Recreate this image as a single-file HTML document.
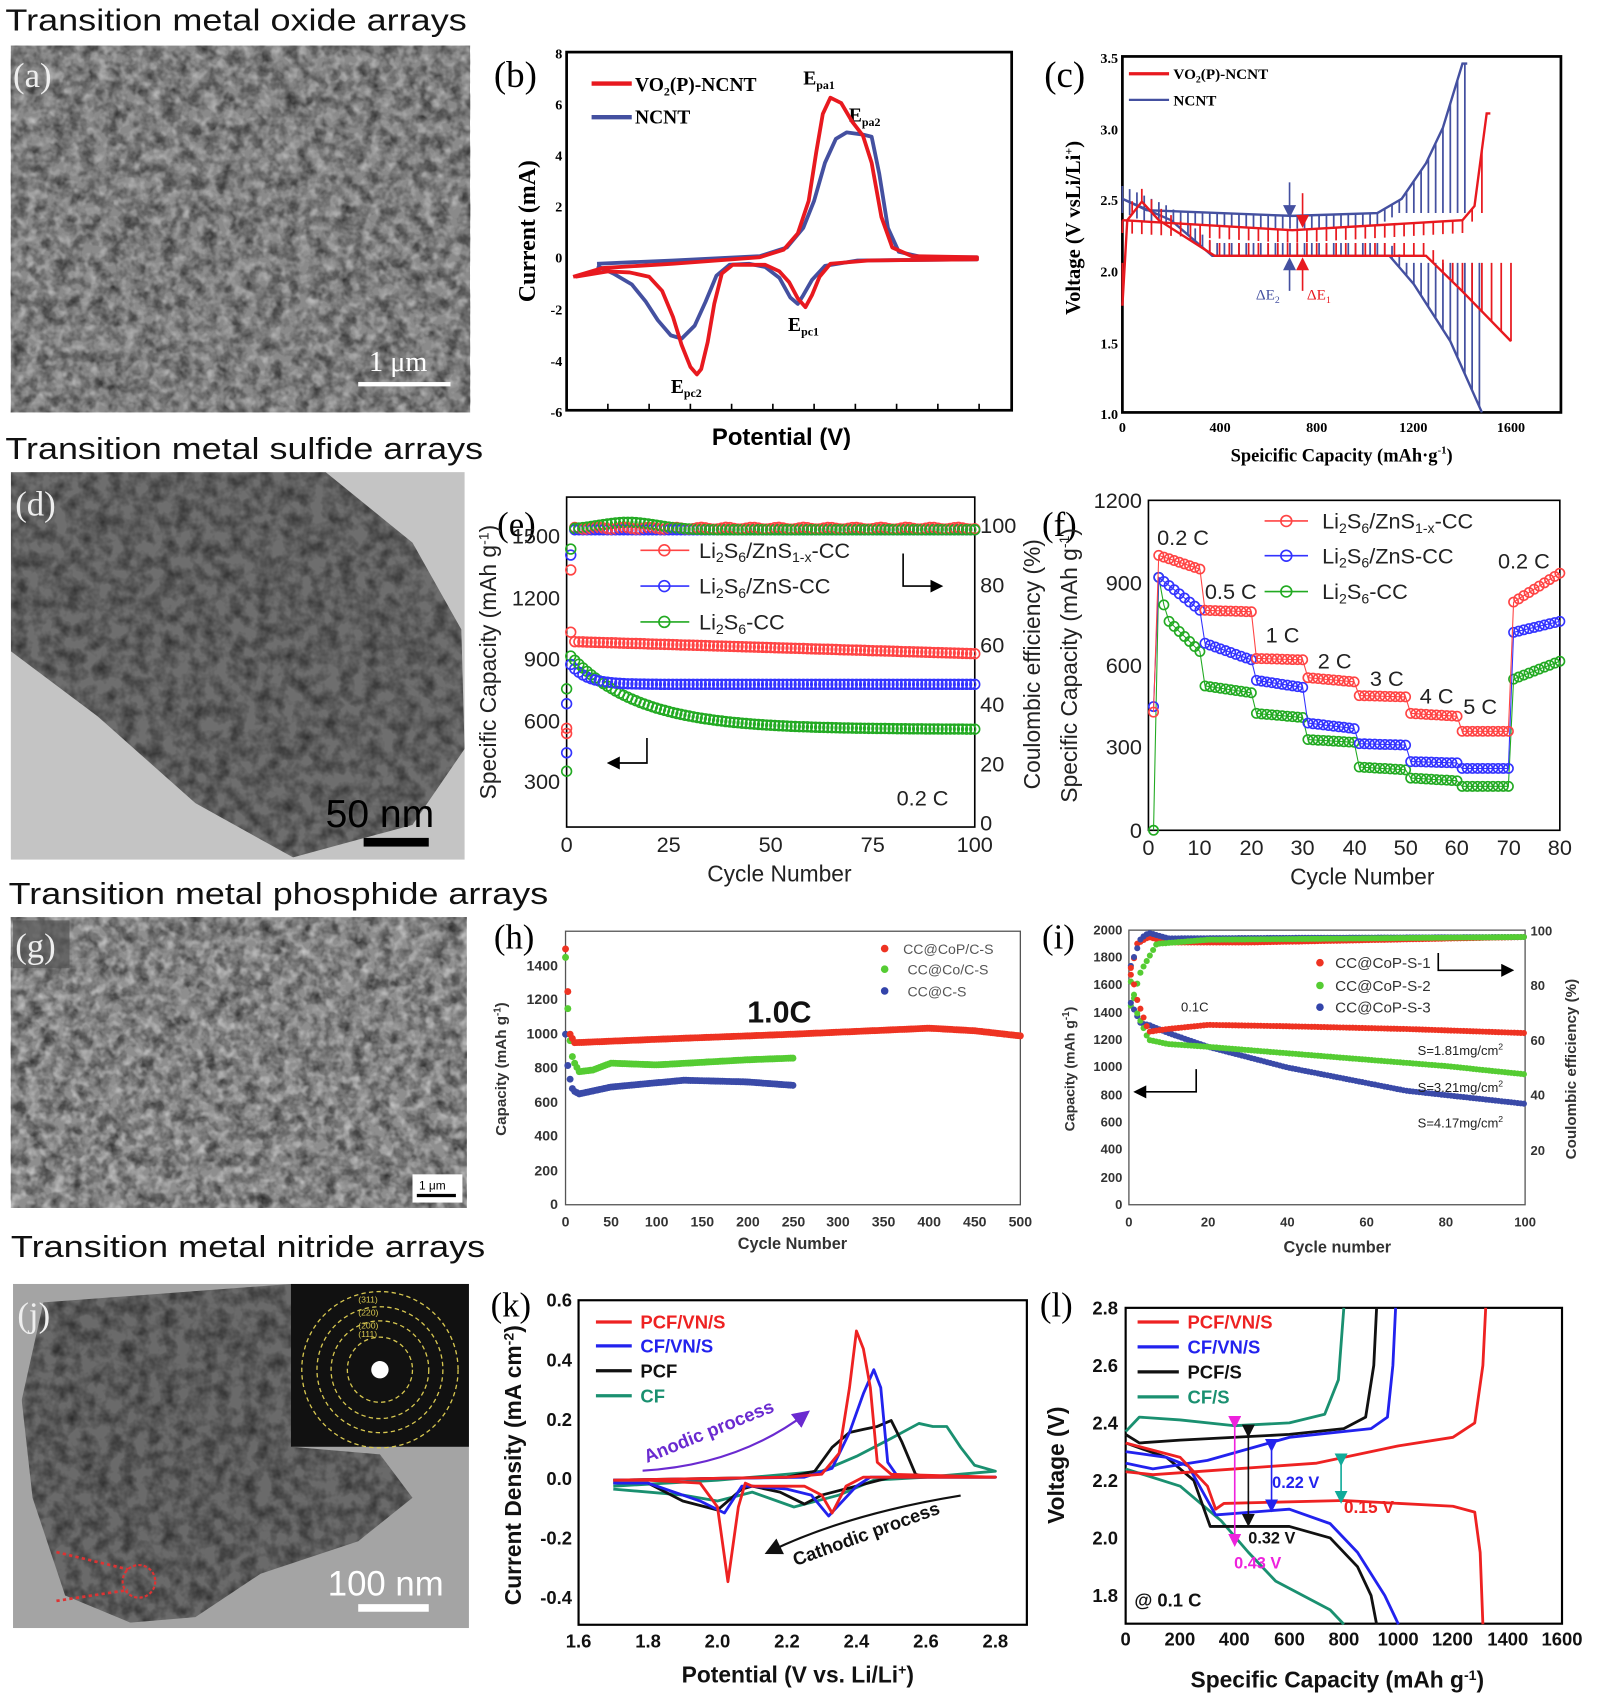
<!DOCTYPE html>
<html><head><meta charset="utf-8"><style>
html,body{margin:0;padding:0;background:#fff;}
svg{display:block}
.t{font-family:"Liberation Sans",Arial,sans-serif;}
.s{font-family:"Liberation Serif","Times New Roman",serif;}
</style></head><body>
<svg id="S" xmlns="http://www.w3.org/2000/svg" width="1600" height="1704" viewBox="0 0 1474 1570" preserveAspectRatio="none">
<defs>
<filter id="nz" x="0" y="0" width="1" height="1"><feTurbulence type="fractalNoise" baseFrequency="0.08" numOctaves="3" seed="3"/><feColorMatrix type="matrix" values="0 0 0 0 0  0 0 0 0 0  0 0 0 0 0  1.6 0 0 0 -0.55"/></filter>
<filter id="nzw" x="0" y="0" width="1" height="1"><feTurbulence type="fractalNoise" baseFrequency="0.12" numOctaves="2" seed="7"/><feColorMatrix type="matrix" values="0 0 0 0 1  0 0 0 0 1  0 0 0 0 1  1.8 0 0 0 -0.8"/></filter>
<clipPath id="cpd"><path d="M10,435 L300,435 L380,500 L425,580 L428,690 L380,760 L270,790 L180,740 L90,660 L10,600 Z"/></clipPath>
<clipPath id="cpj"><path d="M40,1200 L268,1183 L268,1333 L350,1340 L380,1380 L330,1420 L240,1450 L180,1490 L120,1495 L60,1470 L30,1380 L20,1290 Z"/></clipPath>
<marker id="ah" markerWidth="8" markerHeight="8" refX="6" refY="4" orient="auto"><path d="M0,0 L8,4 L0,8 z" fill="context-stroke"/></marker>
</defs>
<rect width="1474" height="1570" fill="#fff"/>

<g class="t" font-size="28" fill="#111">
<text x="5" y="28" textLength="425" lengthAdjust="spacingAndGlyphs">Transition metal oxide arrays</text>
<text x="5" y="423" textLength="440" lengthAdjust="spacingAndGlyphs">Transition metal sulfide arrays</text>
<text x="8" y="833" textLength="497" lengthAdjust="spacingAndGlyphs">Transition metal phosphide arrays</text>
<text x="10" y="1158" textLength="437" lengthAdjust="spacingAndGlyphs">Transition metal nitride arrays</text>
</g>

<!-- photo a -->
<rect x="10" y="42" width="423" height="338" fill="#8a8a8a"/>
<rect x="10" y="42" width="423" height="338" filter="url(#nz)" opacity="0.7"/>
<rect x="10" y="42" width="423" height="338" filter="url(#nzw)" opacity="0.5"/>
<text x="12" y="80" class="s" font-size="32" fill="#eee">(a)</text>
<text x="340" y="342" class="s" font-size="26" fill="#fff">1 μm</text>
<rect x="330" y="352" width="85" height="4" fill="#fff"/>

<!-- photo d -->
<rect x="10" y="435" width="418" height="357" fill="#c4c4c4"/>
<g clip-path="url(#cpd)"><rect x="10" y="435" width="418" height="357" fill="#6e6e6e"/>
<rect x="10" y="435" width="418" height="357" filter="url(#nz)" opacity="0.6"/></g>
<text x="14" y="475" class="s" font-size="32" fill="#eee">(d)</text>
<text x="300" y="762" class="t" font-size="36" fill="#000">50 nm</text>
<rect x="335" y="772" width="60" height="8" fill="#000"/>

<!-- photo g -->
<rect x="10" y="845" width="420" height="268" fill="#8e8e8e"/>
<rect x="10" y="845" width="420" height="268" filter="url(#nz)" opacity="0.7"/>
<rect x="10" y="845" width="420" height="268" filter="url(#nzw)" opacity="0.6"/>
<rect x="12" y="848" width="52" height="44" fill="#555" opacity="0.7"/>
<text x="14" y="882" class="s" font-size="32" fill="#eee">(g)</text>
<rect x="380" y="1082" width="46" height="26" fill="#fff"/>
<text x="386" y="1096" class="t" font-size="11" fill="#000">1 μm</text>
<rect x="384" y="1100" width="36" height="3" fill="#000"/>

<!-- photo j -->
<rect x="12" y="1183" width="420" height="317" fill="#a4a4a4"/>
<g clip-path="url(#cpj)"><rect x="12" y="1183" width="420" height="317" fill="#6a6a6a"/>
<rect x="12" y="1183" width="420" height="317" filter="url(#nz)" opacity="0.6"/></g>
<rect x="268" y="1183" width="164" height="150" fill="#111"/>
<g fill="none" stroke="#d8c850" stroke-width="1.2" stroke-dasharray="4,3">
<circle cx="350" cy="1262" r="30"/><circle cx="350" cy="1262" r="45"/><circle cx="350" cy="1262" r="58"/><circle cx="350" cy="1262" r="72"/>
</g>
<circle cx="350" cy="1262" r="8" fill="#fff"/>
<g class="t" font-size="8" fill="#d8c850"><text x="330" y="1200">(311)</text><text x="330" y="1212">(220)</text><text x="330" y="1224">(200)</text><text x="330" y="1232">(111)</text></g>
<text x="16" y="1222" class="s" font-size="32" fill="#eee">(j)</text>
<text x="302" y="1470" class="t" font-size="32" fill="#fff">100 nm</text>
<rect x="330" y="1478" width="65" height="7" fill="#fff"/>
<circle cx="128" cy="1457" r="15" fill="none" stroke="#d33" stroke-width="2" stroke-dasharray="3,2"/>
<path d="M52,1430 L118,1446 M52,1475 L118,1465" stroke="#d33" stroke-width="2.5" stroke-dasharray="3,3"/>

<!-- ===== (b) ===== -->
<rect x="522" y="48" width="410" height="330" fill="none" stroke="#000" stroke-width="2.5"/>
<text x="455" y="80" class="s" font-size="34">(b)</text>
<g class="s" font-size="13" font-weight="bold" text-anchor="end">
<text x="518" y="54">8</text><text x="518" y="101">6</text><text x="518" y="148">4</text><text x="518" y="195">2</text><text x="518" y="242">0</text><text x="518" y="290">-2</text><text x="518" y="337">-4</text><text x="518" y="384">-6</text>
</g>
<g id="bticks" stroke="#000" stroke-width="1.5"></g>
<text transform="translate(493,213) rotate(-90)" text-anchor="middle" class="s" font-size="22" font-weight="bold">Current (mA)</text>
<text x="720" y="410" text-anchor="middle" class="t" font-size="22" font-weight="bold">Potential (V)</text>
<path d="M545,77 L582,77" stroke="#e8191f" stroke-width="4"/><path d="M545,108 L582,108" stroke="#4450a0" stroke-width="4"/>
<g class="s" font-size="18" font-weight="bold"><text x="585" y="84">VO<tspan font-size="11" dy="4">2</tspan><tspan dy="-4">(P)-NCNT</tspan></text><text x="585" y="114">NCNT</text>
<text x="740" y="78">E<tspan font-size="11" dy="4">pa1</tspan></text><text x="782" y="112">E<tspan font-size="11" dy="4">pa2</tspan></text>
<text x="726" y="305">E<tspan font-size="11" dy="4">pc1</tspan></text><text x="618" y="362">E<tspan font-size="11" dy="4">pc2</tspan></text></g>
<g id="bcurves" fill="none" stroke-width="3.5" stroke-linejoin="round"></g>

<!-- ===== (c) ===== -->
<rect x="1034" y="52" width="404" height="328" fill="none" stroke="#000" stroke-width="2.5"/>
<text x="962" y="80" class="s" font-size="34">(c)</text>
<g class="s" font-size="13" font-weight="bold" text-anchor="end">
<text x="1030" y="58">3.5</text><text x="1030" y="124">3.0</text><text x="1030" y="189">2.5</text><text x="1030" y="255">2.0</text><text x="1030" y="321">1.5</text><text x="1030" y="386">1.0</text>
</g>
<g class="s" font-size="13" font-weight="bold" text-anchor="middle">
<text x="1034" y="398">0</text><text x="1124" y="398">400</text><text x="1213" y="398">800</text><text x="1302" y="398">1200</text><text x="1392" y="398">1600</text>
</g>
<text transform="translate(995,210) rotate(-90)" text-anchor="middle" class="s" font-size="19" font-weight="bold">Voltage (V vsLi/Li<tspan font-size="11" dy="-7">+</tspan><tspan dy="7">)</tspan></text>
<text x="1236" y="425" text-anchor="middle" class="s" font-size="17" font-weight="bold">Speicific Capacity  (mAh·g<tspan font-size="10" dy="-7">-1</tspan><tspan dy="7">)</tspan></text>
<g id="ccurves" fill="none" stroke-width="1.6"></g>
<path d="M1040,68 L1077,68" stroke="#e8191f" stroke-width="3"/><path d="M1040,92 L1077,92" stroke="#4450a0" stroke-width="2"/>
<g class="s" font-size="14" font-weight="bold"><text x="1081" y="73">VO<tspan font-size="9" dy="3">2</tspan><tspan dy="-3">(P)-NCNT</tspan></text><text x="1081" y="97">NCNT</text></g>
<g class="s" font-size="14"><text x="1157" y="276" fill="#4450a0">ΔE<tspan font-size="9" dy="3">2</tspan></text><text x="1204" y="276" fill="#e8191f">ΔE<tspan font-size="9" dy="3">1</tspan></text></g>
<g stroke-width="1.5" fill="none"><path d="M1188,168 L1188,198" stroke="#4450a0" marker-end="url(#ah)"/><path d="M1188,268 L1188,240" stroke="#4450a0" marker-end="url(#ah)"/><path d="M1200,178 L1200,207" stroke="#e8191f" marker-end="url(#ah)"/><path d="M1200,268 L1200,240" stroke="#e8191f" marker-end="url(#ah)"/></g>

<!-- ===== (e) ===== -->
<rect x="522" y="458" width="376" height="304" fill="none" stroke="#000" stroke-width="1.5"/>
<text x="458" y="494" class="s" font-size="32">(e)</text>
<g class="t" font-size="20" fill="#222" text-anchor="end">
<text x="516" y="727">300</text><text x="516" y="671">600</text><text x="516" y="614">900</text><text x="516" y="558">1200</text><text x="516" y="501">1500</text>
</g>
<g class="t" font-size="20" fill="#222">
<text x="903" y="765">0</text><text x="903" y="711">20</text><text x="903" y="656">40</text><text x="903" y="601">60</text><text x="903" y="546">80</text><text x="903" y="491">100</text>
</g>
<g class="t" font-size="20" fill="#222" text-anchor="middle">
<text x="522" y="785">0</text><text x="616" y="785">25</text><text x="710" y="785">50</text><text x="804" y="785">75</text><text x="898" y="785">100</text>
</g>
<text x="718" y="812" text-anchor="middle" class="t" font-size="21" fill="#222">Cycle Number</text>
<text transform="translate(457,610) rotate(-90)" text-anchor="middle" class="t" font-size="21" fill="#222">Specific Capacity (mAh g<tspan font-size="13" dy="-7">-1</tspan><tspan dy="7">)</tspan></text>
<text transform="translate(958,612) rotate(-90)" text-anchor="middle" class="t" font-size="21" fill="#222">Coulombic efficiency (%)</text>
<g id="epts" fill="none" stroke-width="1.5"></g>
<g stroke-width="1.5" fill="none">
<path d="M590,507 L635,507" stroke="#f44"/><circle cx="612" cy="507" r="5" stroke="#f44"/>
<path d="M590,540 L635,540" stroke="#33f"/><circle cx="612" cy="540" r="5" stroke="#33f"/>
<path d="M590,573 L635,573" stroke="#2a2"/><circle cx="612" cy="573" r="5" stroke="#2a2"/>
<path d="M832,510 L832,540 L866,540" stroke="#000" marker-end="url(#ah)"/>
<path d="M596,680 L596,703 L562,703" stroke="#000" marker-end="url(#ah)"/>
</g>
<g class="t" font-size="20" fill="#222">
<text x="644" y="514">Li<tspan font-size="13" dy="4">2</tspan><tspan dy="-4">S</tspan><tspan font-size="13" dy="4">6</tspan><tspan dy="-4">/ZnS</tspan><tspan font-size="13" dy="4">1-x</tspan><tspan dy="-4">-CC</tspan></text>
<text x="644" y="547">Li<tspan font-size="13" dy="4">2</tspan><tspan dy="-4">S</tspan><tspan font-size="13" dy="4">6</tspan><tspan dy="-4">/ZnS-CC</tspan></text>
<text x="644" y="580">Li<tspan font-size="13" dy="4">2</tspan><tspan dy="-4">S</tspan><tspan font-size="13" dy="4">6</tspan><tspan dy="-4">-CC</tspan></text>
<text x="826" y="742">0.2 C</text>
</g>

<!-- ===== (f) ===== -->
<rect x="1058" y="461" width="379" height="304" fill="none" stroke="#000" stroke-width="1.5"/>
<text x="960" y="494" class="s" font-size="32">(f)</text>
<g class="t" font-size="20" fill="#222" text-anchor="end">
<text x="1052" y="772">0</text><text x="1052" y="695">300</text><text x="1052" y="620">600</text><text x="1052" y="544">900</text><text x="1052" y="468">1200</text>
</g>
<g class="t" font-size="20" fill="#222" text-anchor="middle">
<text x="1058" y="788">0</text><text x="1105" y="788">10</text><text x="1153" y="788">20</text><text x="1200" y="788">30</text><text x="1248" y="788">40</text><text x="1295" y="788">50</text><text x="1342" y="788">60</text><text x="1390" y="788">70</text><text x="1437" y="788">80</text>
</g>
<text x="1255" y="815" text-anchor="middle" class="t" font-size="21" fill="#222">Cycle Number</text>
<text transform="translate(992,613) rotate(-90)" text-anchor="middle" class="t" font-size="21" fill="#222">Specific Capacity (mAh g<tspan font-size="13" dy="-7">-1</tspan><tspan dy="7">)</tspan></text>
<g id="fpts" fill="none" stroke-width="1.5"></g>
<g stroke-width="1.5" fill="none">
<path d="M1165,480 L1205,480" stroke="#f44"/><circle cx="1185" cy="480" r="5" stroke="#f44"/>
<path d="M1165,512 L1205,512" stroke="#33f"/><circle cx="1185" cy="512" r="5" stroke="#33f"/>
<path d="M1165,545 L1205,545" stroke="#2a2"/><circle cx="1185" cy="545" r="5" stroke="#2a2"/>
</g>
<g class="t" font-size="20" fill="#222">
<text x="1218" y="487">Li<tspan font-size="13" dy="4">2</tspan><tspan dy="-4">S</tspan><tspan font-size="13" dy="4">6</tspan><tspan dy="-4">/ZnS</tspan><tspan font-size="13" dy="4">1-x</tspan><tspan dy="-4">-CC</tspan></text>
<text x="1218" y="519">Li<tspan font-size="13" dy="4">2</tspan><tspan dy="-4">S</tspan><tspan font-size="13" dy="4">6</tspan><tspan dy="-4">/ZnS-CC</tspan></text>
<text x="1218" y="552">Li<tspan font-size="13" dy="4">2</tspan><tspan dy="-4">S</tspan><tspan font-size="13" dy="4">6</tspan><tspan dy="-4">-CC</tspan></text>
<text x="1066" y="502">0.2 C</text><text x="1110" y="552">0.5 C</text><text x="1166" y="592">1 C</text><text x="1214" y="616">2 C</text><text x="1262" y="632">3 C</text><text x="1308" y="648">4 C</text><text x="1348" y="658">5 C</text><text x="1380" y="524">0.2 C</text>
</g>

<!-- ===== (h) ===== -->
<rect x="521" y="858" width="419" height="252" fill="none" stroke="#555" stroke-width="1.2"/>
<text x="455" y="874" class="s" font-size="32">(h)</text>
<g class="t" font-size="13" font-weight="bold" fill="#333" text-anchor="end">
<text x="514" y="1114">0</text><text x="514" y="1083">200</text><text x="514" y="1051">400</text><text x="514" y="1020">600</text><text x="514" y="988">800</text><text x="514" y="957">1000</text><text x="514" y="925">1200</text><text x="514" y="894">1400</text>
</g>
<g class="t" font-size="13" font-weight="bold" fill="#333" text-anchor="middle">
<text x="521" y="1130">0</text><text x="563" y="1130">50</text><text x="605" y="1130">100</text><text x="647" y="1130">150</text><text x="689" y="1130">200</text><text x="731" y="1130">250</text><text x="772" y="1130">300</text><text x="814" y="1130">350</text><text x="856" y="1130">400</text><text x="898" y="1130">450</text><text x="940" y="1130">500</text>
</g>
<text x="730" y="1151" text-anchor="middle" class="t" font-size="15" font-weight="bold" fill="#333">Cycle Number</text>
<text transform="translate(466,985) rotate(-90)" text-anchor="middle" class="t" font-size="14" font-weight="bold" fill="#333">Capacity (mAh g<tspan font-size="9" dy="-5">-1</tspan><tspan dy="5">)</tspan></text>
<g id="hpts"></g>
<text x="718" y="942" text-anchor="middle" class="t" font-size="28" font-weight="bold" fill="#111">1.0C</text>
<circle cx="815" cy="874" r="3.5" fill="#e32"/><circle cx="815" cy="893" r="3.5" fill="#5c3"/><circle cx="815" cy="913" r="3.5" fill="#34a"/>
<g class="t" font-size="13" fill="#555"><text x="832" y="879">CC@CoP/C-S</text><text x="836" y="898">CC@Co/C-S</text><text x="836" y="918">CC@C-S</text></g>

<!-- ===== (i) ===== -->
<rect x="1040" y="857" width="365" height="253" fill="none" stroke="#555" stroke-width="1.2"/>
<text x="960" y="874" class="s" font-size="32">(i)</text>
<g class="t" font-size="12" font-weight="bold" fill="#333" text-anchor="end">
<text x="1034" y="1114">0</text><text x="1034" y="1089">200</text><text x="1034" y="1063">400</text><text x="1034" y="1038">600</text><text x="1034" y="1013">800</text><text x="1034" y="987">1000</text><text x="1034" y="962">1200</text><text x="1034" y="937">1400</text><text x="1034" y="911">1600</text><text x="1034" y="886">1800</text><text x="1034" y="861">2000</text>
</g>
<g class="t" font-size="12" font-weight="bold" fill="#333">
<text x="1410" y="1064">20</text><text x="1410" y="1013">40</text><text x="1410" y="963">60</text><text x="1410" y="912">80</text><text x="1410" y="862">100</text>
</g>
<g class="t" font-size="12" font-weight="bold" fill="#333" text-anchor="middle">
<text x="1040" y="1130">0</text><text x="1113" y="1130">20</text><text x="1186" y="1130">40</text><text x="1259" y="1130">60</text><text x="1332" y="1130">80</text><text x="1405" y="1130">100</text>
</g>
<text x="1232" y="1154" text-anchor="middle" class="t" font-size="15" font-weight="bold" fill="#333">Cycle number</text>
<text transform="translate(990,985) rotate(-90)" text-anchor="middle" class="t" font-size="13" font-weight="bold" fill="#333">Capacity (mAh g<tspan font-size="9" dy="-5">-1</tspan><tspan dy="5">)</tspan></text>
<text transform="translate(1452,985) rotate(-90)" text-anchor="middle" class="t" font-size="14" font-weight="bold" fill="#333">Coulombic efficiency (%)</text>
<g id="ipts"></g>
<circle cx="1216" cy="887" r="3.5" fill="#e32"/><circle cx="1216" cy="908" r="3.5" fill="#5c3"/><circle cx="1216" cy="928" r="3.5" fill="#34a"/>
<g class="t" font-size="14" fill="#333"><text x="1230" y="892">CC@CoP-S-1</text><text x="1230" y="913">CC@CoP-S-2</text><text x="1230" y="933">CC@CoP-S-3</text></g>
<g class="t" font-size="12" fill="#222"><text x="1088" y="932">0.1C</text>
<text x="1306" y="972">S=1.81mg/cm<tspan font-size="8" dy="-5">2</tspan></text><text x="1306" y="1006">S=3.21mg/cm<tspan font-size="8" dy="-5">2</tspan></text><text x="1306" y="1039">S=4.17mg/cm<tspan font-size="8" dy="-5">2</tspan></text></g>
<g stroke="#000" stroke-width="1.5" fill="none"><path d="M1325,878 L1325,894 L1392,894" marker-end="url(#ah)"/><path d="M1102,985 L1102,1006 L1047,1006" marker-end="url(#ah)"/></g>

<!-- ===== (k) ===== -->
<rect x="533" y="1198" width="413" height="299" fill="none" stroke="#000" stroke-width="2"/>
<text x="452" y="1213" class="s" font-size="32">(k)</text>
<g class="t" font-size="17" font-weight="bold" fill="#111" text-anchor="end">
<text x="527" y="1204">0.6</text><text x="527" y="1259">0.4</text><text x="527" y="1314">0.2</text><text x="527" y="1368">0.0</text><text x="527" y="1423">-0.2</text><text x="527" y="1478">-0.4</text>
</g>
<g class="t" font-size="17" font-weight="bold" fill="#111" text-anchor="middle">
<text x="533" y="1518">1.6</text><text x="597" y="1518">1.8</text><text x="661" y="1518">2.0</text><text x="725" y="1518">2.2</text><text x="789" y="1518">2.4</text><text x="853" y="1518">2.6</text><text x="917" y="1518">2.8</text>
</g>
<text x="735" y="1550" text-anchor="middle" class="t" font-size="21" font-weight="bold" fill="#111">Potential (V vs. Li/Li<tspan font-size="13" dy="-7">+</tspan><tspan dy="7">)</tspan></text>
<text transform="translate(480,1350) rotate(-90)" text-anchor="middle" class="t" font-size="21" font-weight="bold" fill="#111">Current Density (mA cm<tspan font-size="13" dy="-7">-2</tspan><tspan dy="7">)</tspan></text>
<g id="kcurves" fill="none" stroke-width="2.6" stroke-linejoin="round"></g>
<g stroke-width="3"><path d="M549,1218 L582,1218" stroke="#e22"/><path d="M549,1240 L582,1240" stroke="#22e"/><path d="M549,1263 L582,1263" stroke="#111"/><path d="M549,1286 L582,1286" stroke="#1a9070"/></g>
<g class="t" font-size="17" font-weight="bold"><text x="590" y="1224" fill="#e22">PCF/VN/S</text><text x="590" y="1246" fill="#22e">CF/VN/S</text><text x="590" y="1269" fill="#111">PCF</text><text x="590" y="1292" fill="#1a9070">CF</text></g>
<path d="M592,1355 Q680,1350 743,1302" stroke="#6a2ad0" stroke-width="2" fill="none" marker-end="url(#ah)"/>
<text transform="translate(596,1348) rotate(-22)" class="t" font-size="17" font-weight="bold" fill="#6a2ad0">Anodic process</text>
<path d="M885,1378 Q780,1395 708,1430" stroke="#111" stroke-width="2" fill="none" marker-end="url(#ah)"/>
<text transform="translate(733,1443) rotate(-20)" class="t" font-size="17" font-weight="bold" fill="#111">Cathodic process</text>

<!-- ===== (l) ===== -->
<rect x="1037" y="1205" width="402" height="291" fill="none" stroke="#000" stroke-width="2"/>
<text x="958" y="1213" class="s" font-size="32">(l)</text>
<g class="t" font-size="17" font-weight="bold" fill="#111" text-anchor="end">
<text x="1030" y="1211">2.8</text><text x="1030" y="1264">2.6</text><text x="1030" y="1317">2.4</text><text x="1030" y="1370">2.2</text><text x="1030" y="1423">2.0</text><text x="1030" y="1476">1.8</text>
</g>
<g class="t" font-size="17" font-weight="bold" fill="#111" text-anchor="middle">
<text x="1037" y="1516">0</text><text x="1087" y="1516">200</text><text x="1137" y="1516">400</text><text x="1188" y="1516">600</text><text x="1238" y="1516">800</text><text x="1288" y="1516">1000</text><text x="1338" y="1516">1200</text><text x="1389" y="1516">1400</text><text x="1439" y="1516">1600</text>
</g>
<text x="1232" y="1555" text-anchor="middle" class="t" font-size="21" font-weight="bold" fill="#111">Specific Capacity (mAh g<tspan font-size="13" dy="-7">-1</tspan><tspan dy="7">)</tspan></text>
<text transform="translate(980,1350) rotate(-90)" text-anchor="middle" class="t" font-size="21" font-weight="bold" fill="#111">Voltage (V)</text>
<g id="lcurves" fill="none" stroke-width="2.6" stroke-linejoin="round"></g>
<g stroke-width="3"><path d="M1048,1218 L1086,1218" stroke="#e22"/><path d="M1048,1241 L1086,1241" stroke="#22e"/><path d="M1048,1264 L1086,1264" stroke="#111"/><path d="M1048,1287 L1086,1287" stroke="#1a9070"/></g>
<g class="t" font-size="17" font-weight="bold"><text x="1094" y="1224" fill="#e22">PCF/VN/S</text><text x="1094" y="1247" fill="#22e">CF/VN/S</text><text x="1094" y="1270" fill="#111">PCF/S</text><text x="1094" y="1293" fill="#1a9070">CF/S</text></g>
<g id="larrows" stroke-width="1.5" fill="none"></g>
<g class="t" font-size="15" font-weight="bold"><text x="1172" y="1371" fill="#22e">0.22 V</text><text x="1238" y="1394" fill="#e22" font-size="16">0.15 V</text><text x="1150" y="1422" fill="#111">0.32 V</text><text x="1137" y="1445" fill="#e2d">0.43 V</text><text x="1045" y="1480" fill="#111" font-size="17">@ 0.1 C</text></g>
</svg>
<script>
(function(){
var NS="http://www.w3.org/2000/svg";
function el(pid,tag,a){var e=document.createElementNS(NS,tag);for(var k in a)e.setAttribute(k,a[k]);document.getElementById(pid).appendChild(e);return e;}
function lin(a0,a1,v0,v1){return function(v){return a0+(v-v0)*(a1-a0)/(v1-v0);};}
function interp(pts){return function(x){if(x<=pts[0][0])return pts[0][1];for(var i=1;i<pts.length;i++){if(x<=pts[i][0]){var t=(x-pts[i-1][0])/(pts[i][0]-pts[i-1][0]);return pts[i-1][1]+t*(pts[i][1]-pts[i-1][1]);}}return pts[pts.length-1][1];};}
function pth(pts,fx,fy){return pts.map(function(p,i){return (i?'L':'M')+fx(p[0]).toFixed(1)+','+fy(p[1]).toFixed(1);}).join('');}
for(var x=560;x<932;x+=38){el('bticks','line',{x1:x,y1:378,x2:x,y2:372});}
var bred=[[528,255],[555,247],[620,243],[700,237],[722,230],[735,215],[745,185],[752,140],[758,105],[765,90],[775,95],[785,112],[795,125],[803,150],[812,200],[822,228],[840,236],[900,237],[900,239],[800,240],[765,243],[755,255],[748,272],[742,283],[735,275],[727,260],[718,250],[705,244],[675,244],[665,252],[658,280],[652,315],[646,340],[642,345],[636,338],[628,318],[620,292],[610,268],[598,255],[580,251],[560,250],[530,255]];
var bblue=[[550,243],[620,240],[700,236],[725,228],[740,210],[750,185],[760,150],[770,128],[780,122],[795,124],[803,126],[810,160],[818,210],[828,232],[850,237],[900,237],[900,239],[790,240],[760,245],[748,258],[740,272],[735,280],[728,274],[718,256],[705,246],[690,243],[672,244],[660,254],[650,278],[640,300],[628,312],[618,309],[606,295],[595,278],[582,262],[565,252],[550,245]];
el('bcurves','path',{d:pth(bblue,function(v){return v},function(v){return v}),stroke:'#4450a0'});
el('bcurves','path',{d:pth(bred,function(v){return v},function(v){return v}),stroke:'#e8191f'});
var cx=lin(1034,1392,0,1600), cy=lin(380,52,1.0,3.5);
function saw(up,lo,c0,c1,cu,cl,step,col){
 var U=interp(up),L=interp(lo),d='';
 for(var c=c0;c<=cu;c+=step){var u=U(c);var t=Math.max(0.09,u-2.4);d+='M'+cx(c).toFixed(1)+','+cy(u).toFixed(1)+'L'+cx(c).toFixed(1)+','+cy(u-t).toFixed(1);}
 for(var c=c0;c<=cl;c+=step){var l=L(c);var t=Math.max(0.09,2.05-l);d+='M'+cx(c).toFixed(1)+','+cy(l).toFixed(1)+'L'+cx(c).toFixed(1)+','+cy(l+t).toFixed(1);}
 el('ccurves','path',{d:d,stroke:col});
 el('ccurves','path',{d:pth(up,cx,cy),stroke:col,'stroke-width':2.2});
 el('ccurves','path',{d:pth(lo,cx,cy),stroke:col,'stroke-width':2.2});
}
saw([[0,2.5],[100,2.42],[700,2.38],[1050,2.4],[1150,2.5],[1250,2.75],[1320,3.0],[1400,3.45],[1420,3.45]],[[0,2.5],[200,2.35],[370,2.1],[1100,2.1],[1200,1.9],[1350,1.5],[1480,1.0]],0,0,1410,1480,30,'#4450a0');
saw([[0,2.35],[700,2.28],[1400,2.35],[1450,2.45],[1500,3.1],[1515,3.1]],[[0,1.75],[20,2.35],[80,2.48],[150,2.35],[380,2.1],[1250,2.1],[1400,1.85],[1600,1.5]],0,0,1510,1600,40,'#e8191f');
var ex=lin(522,898,0,100), ey=lin(720,494,300,1500), er=lin(758,484,0,100);
function circ(pid,x,y,r,col){el(pid,'circle',{cx:x.toFixed(1),cy:y.toFixed(1),r:r,stroke:col});}
for(var c=0;c<=100;c++){
 var rc=c==0?560:(c==1?1030:985-0.6*c), bc=c==0?440:900-125*(1-Math.exp(-c/4)), gc=c==0?350:555+380*Math.exp(-c/17);
 var rce=c==0?30:(c==1?85:99+0.3*Math.sin(c)), bce=c==0?40:(c==1?90:98.5), gce=c==0?45:(c==1?92:98.5+2.5*Math.exp(-Math.pow((c-15)/10,2)));
 circ('epts',ex(c),ey(gc),4.5,'#2a2');circ('epts',ex(c),ey(bc),4.5,'#33f');circ('epts',ex(c),ey(rc),4.5,'#f44');
 circ('epts',ex(c),er(bce),4.5,'#33f');circ('epts',ex(c),er(rce),4.5,'#f44');circ('epts',ex(c),er(gce),4.5,'#2a2');
}
var fx=lin(1058,1437,0,80), fy=lin(765,461,0,1200);
function seg(c,arr){for(var i=0;i<arr.length;i++){var s=arr[i];if(c>=s[0]&&c<=s[1])return s[2]+(s[3]-s[2])*(c-s[0])/Math.max(1,s[1]-s[0]);}return 0;}
var R=[[1,1,430,430],[2,10,1000,950],[11,20,800,795],[21,30,625,620],[31,40,555,540],[41,50,490,485],[51,60,425,415],[61,70,360,360],[71,80,830,935]];
var B=[[1,1,450,450],[2,10,920,800],[11,20,680,620],[21,30,545,520],[31,40,390,370],[41,50,315,310],[51,60,250,245],[61,70,225,225],[71,80,720,760]];
var G=[[1,1,0,0],[2,2,920,920],[3,3,820,820],[4,10,760,650],[11,20,525,500],[21,30,425,410],[31,40,330,320],[41,50,230,220],[51,60,190,180],[61,70,160,160],[71,80,550,615]];
[[G,'#2a2'],[B,'#33f'],[R,'#f44']].forEach(function(q){var pts=[];for(var c=1;c<=80;c++)pts.push([c,seg(c,q[0])]);el('fpts','path',{d:pth(pts,fx,fy),stroke:q[1],'stroke-width':1});pts.forEach(function(p){circ('fpts',fx(p[0]),fy(p[1]),4.3,q[1]);});});
var hx=lin(521,940,0,500), hy=lin(1110,890,0,1400);
function dots(pid,pts,fx,fy,col,r){pts.forEach(function(p){el(pid,'circle',{cx:fx(p[0]).toFixed(1),cy:fy(p[1]).toFixed(1),r:r,fill:col});});}
var hr=[],hg=[],hb=[];
var Rh=interp([[0,1500],[2,1300],[5,1000],[10,950],[100,970],[250,1000],[400,1035],[450,1020],[500,990]]);
var Gh=interp([[0,1450],[2,1200],[4,1000],[8,850],[15,780],[30,790],[50,830],[100,820],[200,850],[250,860]]);
var Bh=interp([[0,1000],[3,780],[8,670],[15,650],[50,690],[130,730],[200,720],[250,700]]);
for(var c=0;c<=500;c+=2.5){hr.push([c,Rh(c)]);if(c<=250){hg.push([c,Gh(c)]);hb.push([c,Bh(c)]);}}
dots('hpts',hb,hx,hy,'#3a4aa8',3.2);dots('hpts',hg,hx,hy,'#5c3',3.2);dots('hpts',hr,hx,hy,'#e32',3.2);
var ix=lin(1040,1405,0,100), iy=lin(1110,857,0,2000), ir=lin(1110,857,0,100);
var Ri=interp([[0,1800],[2,1500],[5,1260],[10,1280],[20,1310],[40,1300],[70,1280],[100,1250]]);
var Gi=interp([[0,1700],[2,1400],[5,1200],[10,1170],[20,1150],[50,1080],[80,1010],[100,950]]);
var Bi=interp([[0,1500],[3,1320],[5,1310],[10,1250],[20,1150],[40,1000],[70,830],[100,735]]);
var Rc=interp([[0,80],[2,95],[5,97.5],[10,95.5],[30,95.5],[100,97.5]]);
var Gc=interp([[0,70],[3,85],[7,95],[20,96.5],[100,97.5]]);
var Bc=interp([[0,85],[3,97],[5,99],[10,97],[100,97.5]]);
var p1=[],p2=[],p3=[],q1=[],q2=[],q3=[];
for(var c=0.5;c<=100;c+=0.8){p1.push([c,Ri(c)]);p2.push([c,Gi(c)]);p3.push([c,Bi(c)]);q1.push([c,Rc(c)]);q2.push([c,Gc(c)]);q3.push([c,Bc(c)]);}
dots('ipts',q1,ix,ir,'#e32',2.8);dots('ipts',q3,ix,ir,'#3a4aa8',2.8);dots('ipts',q2,ix,ir,'#5c3',2.8);
dots('ipts',p3,ix,iy,'#3a4aa8',2.8);dots('ipts',p2,ix,iy,'#5c3',2.8);dots('ipts',p1,ix,iy,'#e32',2.8);
var kx=lin(533,917,1.6,2.8), ky=lin(1361,1251,0,0.4);
var K={
'#1a9070':[[1.7,-0.03],[2.0,-0.01],[2.3,0.02],[2.4,0.07],[2.5,0.13],[2.58,0.18],[2.62,0.17],[2.66,0.17],[2.7,0.1],[2.74,0.04],[2.8,0.02],[2.6,0.0],[2.45,-0.01],[2.35,-0.06],[2.22,-0.1],[2.1,-0.05],[2.0,-0.08],[1.9,-0.06],[1.7,-0.04]],
'#111':[[1.7,-0.01],[2.2,0],[2.28,0.02],[2.33,0.1],[2.38,0.15],[2.42,0.16],[2.46,0.17],[2.5,0.19],[2.53,0.12],[2.57,0.01],[2.6,0],[2.8,0],[2.5,0],[2.4,-0.03],[2.3,-0.06],[2.25,-0.09],[2.18,-0.05],[2.1,-0.03],[2.07,-0.04],[2.0,-0.11],[1.9,-0.08],[1.8,-0.02],[1.7,-0.02]],
'#22e':[[1.7,-0.01],[2.25,0],[2.33,0.03],[2.38,0.15],[2.42,0.28],[2.45,0.36],[2.47,0.3],[2.49,0.05],[2.52,0.0],[2.8,0],[2.44,0],[2.4,-0.03],[2.32,-0.13],[2.27,-0.06],[2.2,-0.04],[2.1,-0.03],[2.07,-0.03],[2.02,-0.12],[1.95,-0.08],[1.8,-0.02],[1.7,-0.02]],
'#e22':[[1.7,-0.01],[2.2,0.0],[2.3,0.01],[2.35,0.08],[2.38,0.3],[2.4,0.49],[2.42,0.43],[2.44,0.3],[2.46,0.05],[2.5,0.01],[2.8,0.0],[2.42,0],[2.37,-0.03],[2.33,-0.12],[2.3,-0.06],[2.25,-0.03],[2.1,-0.03],[2.08,-0.02],[2.06,-0.1],[2.03,-0.35],[2.0,-0.1],[1.95,-0.02],[1.8,-0.01],[1.7,-0.01]]};
for(var k in K)el('kcurves','path',{d:pth(K[k],kx,ky),stroke:k});
var lx=lin(1037,1439,0,1600), ly=lin(1205,1470,2.8,1.8);
var L={
'#1a9070':[[[0,2.37],[50,2.42],[200,2.41],[400,2.39],[600,2.4],[730,2.43],[780,2.55],[800,2.8]],[[0,2.24],[200,2.18],[350,2.06],[450,1.95],[550,1.85],[650,1.8],[750,1.75],[800,1.7]]],
'#111':[[[0,2.36],[50,2.33],[200,2.34],[600,2.36],[800,2.38],[880,2.42],[910,2.6],[920,2.8]],[[0,2.33],[150,2.28],[250,2.2],[310,2.04],[600,2.04],[750,2.0],[850,1.9],[900,1.8],[920,1.7]]],
'#22e':[[[0,2.26],[100,2.24],[300,2.27],[600,2.35],[900,2.38],[960,2.42],[980,2.6],[990,2.8]],[[0,2.3],[150,2.28],[230,2.25],[330,2.08],[600,2.1],[750,2.05],[850,1.95],[950,1.8],[1000,1.7]]],
'#e22':[[[0,2.23],[100,2.22],[400,2.24],[700,2.26],[900,2.3],[1000,2.32],[1200,2.35],[1280,2.4],[1310,2.6],[1320,2.8]],[[0,2.33],[200,2.28],[300,2.18],[330,2.1],[360,2.12],[800,2.13],[1200,2.11],[1280,2.09],[1300,1.95],[1310,1.7]]]};
for(var k in L){el('lcurves','path',{d:pth(L[k][0],lx,ly),stroke:k});el('lcurves','path',{d:pth(L[k][1],lx,ly),stroke:k});}
[[400,2.39,1.98,'#e2d'],[450,2.36,2.05,'#111'],[535,2.31,2.1,'#22e'],[790,2.26,2.13,'#1a9']].forEach(function(a){var X=lx(a[0]);el('larrows','path',{d:'M'+X+','+ly(a[1])+'L'+X+','+ly(a[2]),stroke:a[3],'marker-end':'url(#ah)','marker-start':'url(#ah)'});});
})();
</script>
</body></html>
